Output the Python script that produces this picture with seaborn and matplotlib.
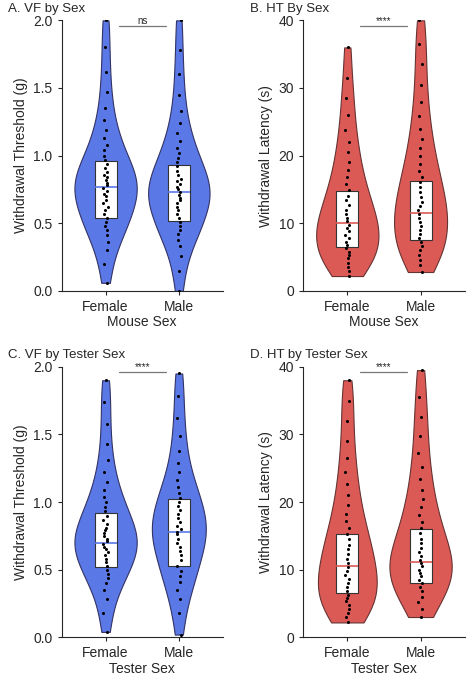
import seaborn as sns
import matplotlib.pyplot as plt
import pandas as pd
import numpy as np

# Values: representative samples per group (dense in the body, sparse in the tail)
groups = ['Female', 'Male']
vf_sex_female = [0.06, 0.2, 0.3, 0.36, 0.41, 0.45, 0.48, 0.51, 0.54, 0.57, 0.60, 0.62, 0.65, 0.67, 0.70, 0.72, 0.74, 0.76, 0.78,
                 0.80, 0.82, 0.84, 0.86, 0.88, 0.91, 0.94, 0.97, 1.00, 1.04, 1.08, 1.13, 1.19, 1.26, 1.35, 1.47, 1.62, 1.80, 2.0]
vf_sex_male = [0.0, 0.15, 0.26, 0.33, 0.38, 0.42, 0.45, 0.48, 0.51, 0.54, 0.57, 0.60, 0.62, 0.65, 0.67, 0.69, 0.71, 0.73, 0.75,
               0.77, 0.79, 0.81, 0.83, 0.86, 0.89, 0.92, 0.95, 0.98, 1.02, 1.06, 1.11, 1.17, 1.24, 1.33, 1.45, 1.60, 1.78, 2.0]
ht_sex_female = [2.2, 3.0, 3.6, 4.2, 4.8, 5.3, 5.8, 6.3, 6.8, 7.3, 7.8, 8.3, 8.8, 9.3, 9.8, 10.3, 10.8, 11.4, 12.0, 12.7,
                 13.4, 14.1, 14.9, 15.8, 16.8, 17.9, 19.1, 20.5, 22.0, 23.8, 26.0, 28.5, 31.5, 36.0]
ht_sex_male = [2.8, 3.8, 4.6, 5.3, 6.0, 6.6, 7.2, 7.8, 8.4, 9.0, 9.6, 10.2, 10.8, 11.4, 12.0, 12.6, 13.2, 13.9, 14.6, 15.3,
               16.1, 16.9, 17.8, 18.8, 19.9, 21.1, 22.5, 24.0, 25.8, 28.0, 30.5, 33.5, 36.5, 40.0]
vf_tester_female = [0.04, 0.18, 0.28, 0.35, 0.40, 0.44, 0.47, 0.50, 0.53, 0.56, 0.58, 0.61, 0.63, 0.65, 0.67, 0.69, 0.71, 0.73,
                    0.75, 0.77, 0.79, 0.81, 0.84, 0.87, 0.90, 0.93, 0.96, 1.00, 1.04, 1.09, 1.15, 1.22, 1.31, 1.43, 1.58, 1.74, 1.9]
vf_tester_male = [0.02, 0.18, 0.28, 0.35, 0.41, 0.45, 0.49, 0.53, 0.57, 0.61, 0.64, 0.67, 0.70, 0.73, 0.76, 0.78, 0.80, 0.82,
                  0.85, 0.88, 0.91, 0.94, 0.97, 1.00, 1.03, 1.07, 1.11, 1.16, 1.22, 1.29, 1.38, 1.49, 1.62, 1.78, 1.95]
ht_tester_female = [2.2, 3.0, 3.6, 4.2, 4.8, 5.3, 5.8, 6.3, 6.8, 7.4, 8.0, 8.6, 9.2, 9.8, 10.4, 11.0, 11.6, 12.3, 13.0, 13.7,
                    14.5, 15.3, 16.2, 17.2, 18.3, 19.6, 21.0, 22.6, 24.4, 26.5, 29.0, 32.0, 35.0, 38.0]
ht_tester_male = [3.0, 4.2, 5.2, 6.0, 6.8, 7.4, 8.0, 8.5, 9.0, 9.5, 10.0, 10.5, 11.0, 11.5, 12.0, 12.6, 13.2, 13.9, 14.6, 15.4,
                  16.2, 17.1, 18.1, 19.2, 20.4, 21.8, 23.4, 25.2, 27.3, 29.8, 32.5, 35.5, 39.5]

# Box quartiles: Q1, median, Q3
box_vf_sex = {'Female': [0.54, 0.77, 0.96], 'Male': [0.52, 0.73, 0.93]}
box_ht_sex = {'Female': [6.5, 10.0, 14.8], 'Male': [7.5, 11.5, 16.3]}
box_vf_tester = {'Female': [0.52, 0.70, 0.92], 'Male': [0.53, 0.78, 1.02]}
box_ht_tester = {'Female': [6.5, 10.5, 15.3], 'Male': [8.0, 11.2, 16.0]}

panels = [
    ('A. VF by Sex', vf_sex_female, vf_sex_male, box_vf_sex, 'Withdrawal Threshold (g)', 'Mouse Sex', 'ns', 'vf'),
    ('B. HT By Sex', ht_sex_female, ht_sex_male, box_ht_sex, 'Withdrawal Latency (s)', 'Mouse Sex', '****', 'ht'),
    ('C. VF by Tester Sex', vf_tester_female, vf_tester_male, box_vf_tester, 'Withdrawal Threshold (g)', 'Tester Sex', '****', 'vf'),
    ('D. HT by Tester Sex', ht_tester_female, ht_tester_male, box_ht_tester, 'Withdrawal Latency (s)', 'Tester Sex', '****', 'ht'),
]

blue = '#5a78e6'
red = '#dc5a55'

sns.set_style('ticks')
plt.rcParams['font.family'] = ['Liberation Sans', 'DejaVu Sans']
fig, axes = plt.subplots(2, 2, figsize=(4.74, 6.78), dpi=100)

for ax, (title, fem, mal, box, ylab, xlab, sig, kind) in zip(axes.flat, panels):
    df = pd.DataFrame({'Sex': ['Female'] * len(fem) + ['Male'] * len(mal),
                       'Value': fem + mal})
    # five values per group so the box quartiles land exactly on Q1 / median / Q3
    bdf = pd.DataFrame({'Sex': [g for g in groups for _ in range(5)],
                        'Value': [v for g in groups for v in
                                  [box[g][0], box[g][0], box[g][1], box[g][2], box[g][2]]]})
    col = blue if kind == 'vf' else red
    sns.violinplot(data=df, x='Sex', y='Value', order=groups, color=col, cut=0,
                   inner=None, linewidth=0.8, linecolor='#333366' if kind == 'vf' else '#663333',
                   width=0.85, bw_adjust=0.7, saturation=1, ax=ax)
    sns.boxplot(data=bdf, x='Sex', y='Value', order=groups, width=0.3, whis=0,
                showfliers=False, showcaps=False,
                boxprops=dict(facecolor='white', edgecolor='#333333', linewidth=0.8),
                medianprops=dict(color=col, linewidth=1.2),
                whiskerprops=dict(linewidth=0), ax=ax)
    sns.stripplot(data=df, x='Sex', y='Value', order=groups, color='black', size=2.2,
                  jitter=0.03, ax=ax)
    if kind == 'vf':
        ax.set_ylim(0, 2.0)
        ax.set_yticks([0, 0.5, 1.0, 1.5, 2.0])
        ax.set_yticklabels(['0.0', '0.5', '1.0', '1.5', '2.0'])
        top = 1.96
    else:
        ax.set_ylim(0, 40)
        ax.set_yticks([0, 10, 20, 30, 40])
        top = 39.2
    ax.plot([0.18, 0.82], [top, top], color='#777777', linewidth=0.9)
    ax.text(0.5, top, sig, ha='center', va='bottom', fontsize=7)
    ax.set_xlim(-0.6, 1.6)
    ax.set_title(title, loc='left', x=-0.33, fontsize=9.5)
    ax.set_xlabel(xlab, fontsize=10, labelpad=1)
    ax.set_ylabel(ylab, fontsize=10)
    ax.tick_params(labelsize=10, length=3)
    sns.despine(ax=ax)

plt.subplots_adjust(left=0.13, right=0.98, top=0.97, bottom=0.06, wspace=0.5, hspace=0.28)
plt.savefig('out.png')
